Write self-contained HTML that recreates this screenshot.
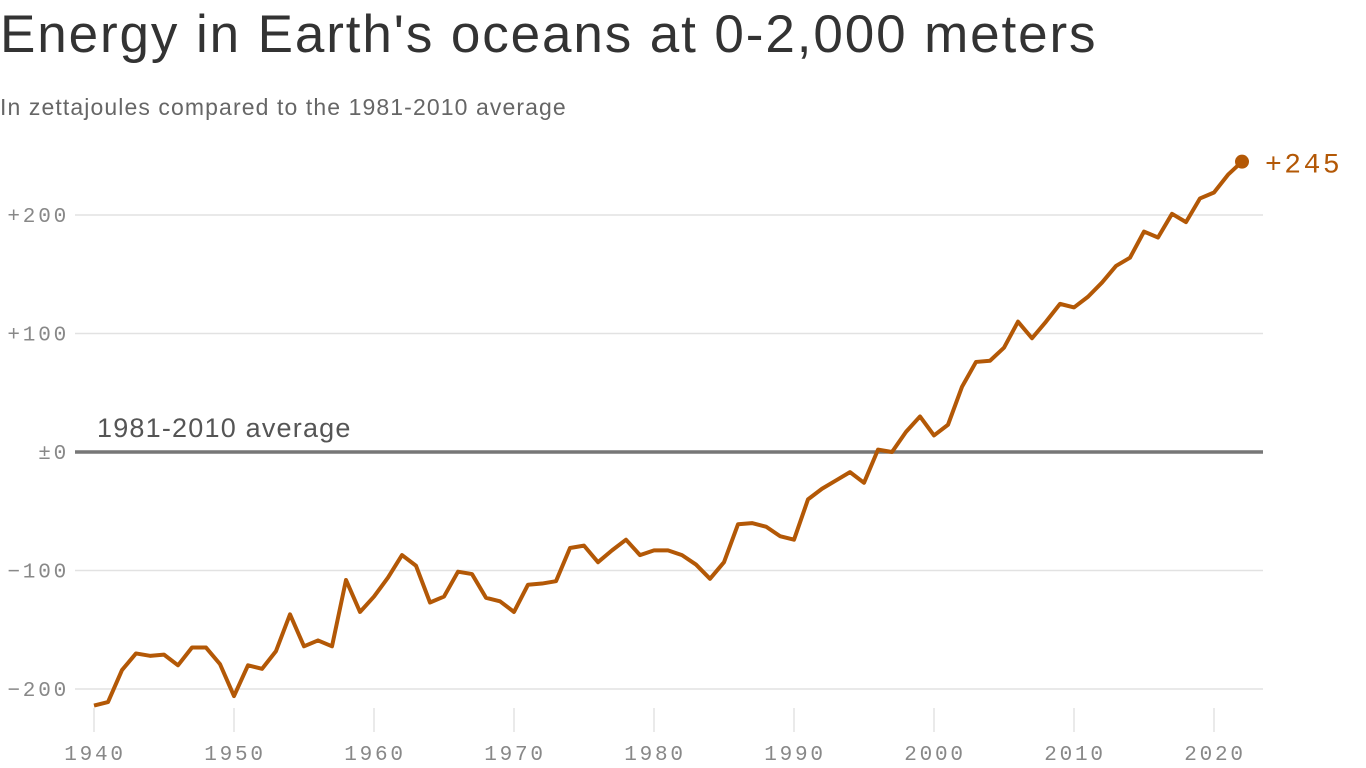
<!DOCTYPE html>
<html><head><meta charset="utf-8"><style>
body{margin:0;background:#fff;width:1366px;height:768px;overflow:hidden;font-family:"Liberation Sans",sans-serif}
h1{position:absolute;left:0;top:4px;margin:0;font-weight:400;font-size:53px;color:#333;letter-spacing:1.9px;white-space:nowrap}
.sub{position:absolute;left:0;top:94px;font-size:23px;color:#666;letter-spacing:1.1px;white-space:nowrap}
svg{position:absolute;left:0;top:0}
</style></head><body>
<h1>Energy in Earth's oceans at 0-2,000 meters</h1>
<div class="sub">In zettajoules compared to the 1981-2010 average</div>
<svg id="chart" width="1366" height="768"></svg>
<script>
const years=[];for(let y=1940;y<=2022;y++)years.push(y);
const values=[-214,-211,-184,-170,-172,-171,-180,-165,-165,-179,-206,-180,-183,-168,-137,-164,-159,-164,-108,-135,-122,-106,-87,-96,-127,-122,-101,-103,-123,-126,-135,-112,-111,-109,-81,-79,-93,-83,-74,-87,-83,-83,-87,-95,-107,-93,-61,-60,-63,-71,-74,-40,-31,-24,-17,-26,2,0,17,30,14,23,55,76,77,88,110,96,110,125,122,131,143,157,164,186,181,201,194,214,219,234,245];
const yTicks=[200,100,-100,-200];
const yTickLabels=["+200","+100","\u2212100","\u2212200"];
const xTicks=[1940,1950,1960,1970,1980,1990,2000,2010,2020];
const endLabel="+245";
const NS="http://www.w3.org/2000/svg";
const svg=document.getElementById('chart');
const X=y=>94+(y-1940)*14;
const Y=v=>452-v*1.185;
function el(t,a,txt){const e=document.createElementNS(NS,t);for(const k in a)e.setAttribute(k,a[k]);if(txt!=null)e.textContent=txt;svg.appendChild(e);return e;}
const mono={'font-family':'Liberation Mono, monospace','font-size':21,fill:'#888','letter-spacing':2.8};
yTicks.forEach((t,i)=>{
 const g=el('line',{x1:75,x2:1263,y1:Y(t),y2:Y(t),stroke:'#e2e2e2','stroke-width':1.5});
 
 
 const l=el('text',Object.assign({x:69,y:Y(t)+7,'text-anchor':'end'},mono),yTickLabels[i]);
 
 
});
const zl=el('text',Object.assign({x:69,y:Y(0)+7,'text-anchor':'end'},mono),'\u00b10');


xTicks.forEach(t=>{
 const tk=el('line',{x1:X(t),x2:X(t),y1:708,y2:732,stroke:'#e2e2e2','stroke-width':1.5});
 
 
 const l=el('text',Object.assign({x:X(t)+1,y:760,'text-anchor':'middle'},mono),t);
 
 
});
const base=el('line',{x1:75,x2:1263,y1:Y(0),y2:Y(0),stroke:'#777','stroke-width':3.5});


const bl=el('text',{x:97,y:437,'font-size':27,fill:'#555','letter-spacing':1.2},'1981-2010 average');


const pts=years.map((y,i)=>X(y)+','+Y(values[i])).join(' ');
const line=el('polyline',{points:pts,fill:'none',stroke:'#b35806','stroke-width':4,'stroke-linejoin':'round'});


const li=years.length-1;
const dot=el('circle',{cx:X(years[li]),cy:Y(values[li]),r:7,fill:'#b35806'});


const et=el('text',{x:X(years[li])+23,y:Y(values[li])+11,'font-family':'Liberation Mono, monospace','font-size':28,fill:'#b35806','letter-spacing':2.5},endLabel);


</script>
</body></html>
